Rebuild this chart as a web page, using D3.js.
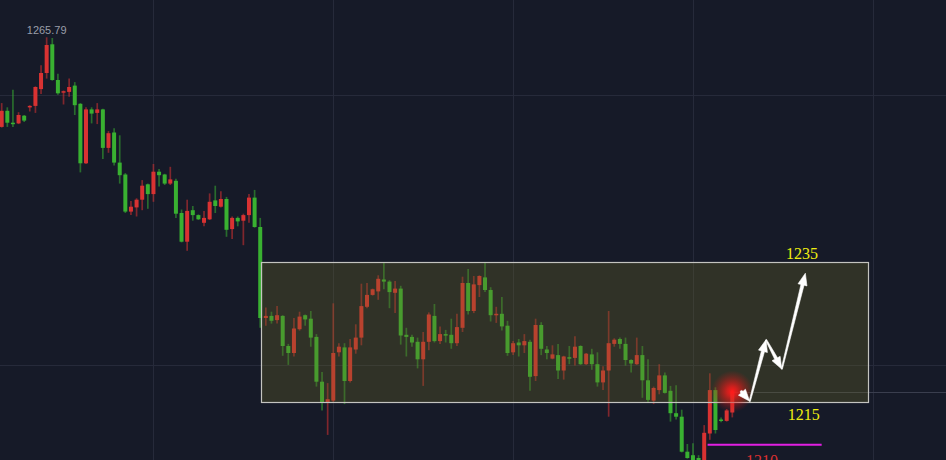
<!DOCTYPE html>
<html>
<head>
<meta charset="utf-8">
<script src="https://cdn.jsdelivr.net/npm/d3@7"></script>
<style>
  html, body { margin: 0; padding: 0; background: #161a28; overflow: hidden; }
  svg { display: block; }
</style>
</head>
<body>
<svg id="chart"></svg>
<script>
// Candle data, oldest first (up = red, down = green)
var opens = [1254.3, 1256.6, 1254.9, 1254.8, 1255.9, 1257.1, 1257.3, 1259.7, 1262.0, 1266.1,
  1261.0, 1259.2, 1259.3, 1260.2, 1257.6, 1249.1, 1256.8, 1256.3, 1256.8, 1251.3,
  1253.5, 1249.2, 1247.5, 1242.2, 1242.8, 1243.9, 1246.1, 1244.7, 1247.9, 1247.5,
  1246.2, 1246.6, 1242.0, 1237.9, 1242.4, 1241.7, 1240.6, 1241.1, 1243.8, 1242.9,
  1244.0, 1239.7, 1241.3, 1240.9, 1241.7, 1244.2, 1240.0, 1227.0, 1227.3, 1226.7,
  1227.3, 1223.0, 1222.0, 1225.4, 1227.4, 1226.9, 1224.3, 1217.9, 1215.0, 1215.2,
  1222.1, 1222.8, 1218.0, 1222.5, 1224.2, 1228.6, 1230.3, 1230.8, 1232.5, 1232.2,
  1230.6, 1231.2, 1224.6, 1224.3, 1223.6, 1221.1, 1223.6, 1227.3, 1223.7, 1224.7,
  1224.6, 1223.4, 1225.6, 1232.0, 1228.0, 1231.7, 1232.8, 1231.0, 1227.4, 1227.6,
  1225.9, 1222.1, 1223.5, 1223.1, 1223.6, 1218.7, 1226.0, 1222.5, 1221.2, 1221.7,
  1219.5, 1221.4, 1221.3, 1223.0, 1220.4, 1221.8, 1220.4, 1217.8, 1219.5, 1223.3,
  1224.0, 1223.3, 1221.0, 1220.4, 1221.7, 1218.1, 1215.2, 1216.7, 1218.8, 1216.6,
  1213.4, 1212.9, 1207.9, 1207.4, 1207.0, 1204.6, 1210.5, 1216.7, 1212.5, 1212.3,
  1213.5];
var highs = [1257.7, 1257.1, 1259.6, 1256.4, 1256.0, 1257.4, 1260.1, 1263.1, 1267.1, 1267.0,
  1261.9, 1259.5, 1261.2, 1260.7, 1257.7, 1257.1, 1257.1, 1257.7, 1256.9, 1253.7,
  1254.1, 1253.1, 1247.7, 1243.7, 1244.1, 1246.7, 1246.2, 1249.0, 1248.3, 1247.6,
  1248.6, 1246.9, 1242.5, 1243.9, 1243.0, 1241.8, 1242.3, 1244.8, 1245.9, 1245.1,
  1244.3, 1241.5, 1241.5, 1241.9, 1244.7, 1245.3, 1241.3, 1228.5, 1227.9, 1228.7,
  1227.4, 1223.3, 1227.0, 1227.9, 1227.5, 1228.0, 1224.7, 1219.3, 1217.7, 1229.1,
  1223.4, 1223.4, 1224.0, 1226.1, 1231.9, 1232.0, 1231.2, 1233.1, 1235.0, 1232.4,
  1232.3, 1231.6, 1225.6, 1224.6, 1224.2, 1225.0, 1227.8, 1229.0, 1225.8, 1225.3,
  1226.9, 1227.6, 1232.9, 1234.0, 1233.0, 1233.1, 1235.0, 1231.4, 1228.6, 1230.0,
  1226.6, 1223.7, 1224.0, 1224.7, 1223.9, 1226.9, 1226.4, 1223.0, 1223.1, 1223.3,
  1221.6, 1223.0, 1224.4, 1223.1, 1222.0, 1222.6, 1222.1, 1220.1, 1228.0, 1224.1,
  1224.2, 1224.2, 1221.1, 1224.2, 1223.0, 1221.1, 1217.2, 1220.4, 1219.2, 1217.3,
  1217.4, 1213.9, 1209.0, 1209.1, 1207.4, 1211.7, 1219.1, 1217.1, 1212.8, 1214.0,
  1216.7];
var lows = [1254.2, 1254.3, 1254.3, 1254.7, 1255.0, 1256.5, 1256.3, 1259.0, 1261.2, 1260.9,
  1258.9, 1257.5, 1258.6, 1256.0, 1247.8, 1249.0, 1254.8, 1254.7, 1249.7, 1250.6,
  1248.8, 1246.2, 1242.0, 1241.7, 1241.5, 1242.4, 1242.6, 1243.6, 1245.8, 1246.0,
  1246.0, 1241.3, 1237.8, 1236.6, 1240.9, 1241.0, 1240.1, 1241.0, 1242.0, 1242.8,
  1238.6, 1238.3, 1240.1, 1237.4, 1240.6, 1239.9, 1225.6, 1225.9, 1226.2, 1226.2,
  1221.6, 1220.3, 1221.5, 1225.2, 1225.9, 1222.9, 1217.2, 1213.8, 1210.3, 1215.0,
  1221.5, 1214.7, 1217.8, 1221.9, 1223.1, 1228.4, 1230.2, 1229.6, 1231.1, 1228.4,
  1227.7, 1223.2, 1221.5, 1222.9, 1219.8, 1217.3, 1222.4, 1223.5, 1223.3, 1223.5,
  1222.6, 1223.0, 1225.0, 1227.5, 1227.7, 1230.0, 1230.7, 1226.5, 1226.3, 1225.2,
  1221.6, 1221.7, 1221.5, 1222.0, 1216.6, 1218.0, 1221.7, 1221.1, 1221.1, 1218.3,
  1218.2, 1220.4, 1220.2, 1220.3, 1220.3, 1219.6, 1217.2, 1216.7, 1212.9, 1222.9,
  1222.6, 1220.2, 1219.2, 1220.3, 1215.6, 1215.0, 1214.7, 1216.1, 1216.2, 1212.2,
  1212.5, 1207.8, 1206.9, 1205.3, 1204.6, 1203.9, 1209.6, 1210.5, 1212.1, 1212.2,
  1212.8];
var closes = [1256.6, 1254.9, 1254.7, 1256.0, 1255.2, 1257.3, 1260.0, 1262.0, 1266.0, 1261.0,
  1259.1, 1259.4, 1260.0, 1257.4, 1249.1, 1256.8, 1256.2, 1256.8, 1251.3, 1253.4,
  1249.2, 1247.4, 1242.2, 1242.9, 1243.9, 1245.9, 1244.7, 1247.9, 1247.4, 1246.2,
  1246.8, 1241.9, 1237.9, 1242.3, 1241.7, 1241.1, 1241.3, 1243.6, 1243.0, 1244.0,
  1239.6, 1241.3, 1240.8, 1241.7, 1244.2, 1240.0, 1227.0, 1227.3, 1226.6, 1227.4,
  1223.0, 1222.0, 1225.5, 1227.2, 1226.8, 1224.2, 1217.9, 1215.0, 1215.4, 1222.0,
  1222.9, 1218.0, 1222.8, 1224.2, 1228.7, 1230.3, 1231.1, 1232.6, 1232.2, 1230.7,
  1231.2, 1224.5, 1224.3, 1223.5, 1221.1, 1223.6, 1227.5, 1223.7, 1224.7, 1224.5,
  1223.4, 1225.7, 1232.0, 1228.0, 1231.8, 1233.0, 1231.0, 1227.4, 1227.6, 1225.8,
  1222.0, 1223.4, 1223.1, 1223.7, 1218.6, 1226.0, 1222.6, 1222.0, 1221.8, 1219.5,
  1221.5, 1221.3, 1222.9, 1220.4, 1221.9, 1220.4, 1217.8, 1219.5, 1223.4, 1223.9,
  1223.3, 1221.0, 1220.5, 1221.7, 1218.1, 1215.3, 1217.0, 1218.8, 1216.3, 1213.4,
  1212.9, 1207.9, 1207.0, 1205.9, 1205.3, 1210.6, 1216.7, 1211.0, 1212.3, 1213.8,
  1216.5];

// Annotation values
var zoneTop = 1235, zoneBottom = 1215;
var zoneStart = 46.1, zoneEnd = 154.15;
var stopLevel = 1208.9, stopStart = 125.6, stopEnd = 145.9;
var zoneLabels = ["1235", "1215", "1210"];
var highLabel = "1265.79";
// projected path: [bar index, price]
var pathIdx = [131.5, 133.1, 136.0, 138.8, 143.0];
var pathPrice = [1216.6, 1215.1, 1223.9, 1219.7, 1233.4];
// grid positions
var gridIdx = [27, 59, 91, 123, 155];
var gridPrice = [1258.85, 1220.3];

var width = 946, height = 460;
var upColor = "#d93232", downColor = "#39b131";

var candles = d3.range(opens.length).map(function (i) {
    return { i: i, o: opens[i], h: highs[i], l: lows[i], c: closes[i] };
});

// Define scales
var xScale = d3.scaleLinear().domain([0, 130]).range([1.7, 732.3]);
var yScale = d3.scaleLinear().domain([zoneBottom, zoneTop]).range([402, 262]);

var svg = d3.select("#chart")
    .attr("width", width)
    .attr("height", height);

svg.append("rect")
    .attr("width", width)
    .attr("height", height)
    .attr("fill", "#161a28");

var defs = svg.append("defs");
var glow = defs.append("radialGradient").attr("id", "glow");
glow.append("stop").attr("offset", "0%").attr("stop-color", "#ff1a1a").attr("stop-opacity", 1);
glow.append("stop").attr("offset", "25%").attr("stop-color", "#ff1a1a").attr("stop-opacity", 0.75);
glow.append("stop").attr("offset", "100%").attr("stop-color", "#c81414").attr("stop-opacity", 0);

// Grid lines
svg.append("g").selectAll("line")
    .data(gridIdx)
    .enter().append("line")
    .attr("x1", function (d) { return Math.round(xScale(d)) + 0.5; })
    .attr("x2", function (d) { return Math.round(xScale(d)) + 0.5; })
    .attr("y1", 0).attr("y2", height)
    .attr("stroke", "#262a3a").attr("stroke-width", 1);

svg.append("g").selectAll("line")
    .data(gridPrice)
    .enter().append("line")
    .attr("x1", 0).attr("x2", width)
    .attr("y1", function (d) { return Math.round(yScale(d)) + 0.5; })
    .attr("y2", function (d) { return Math.round(yScale(d)) + 0.5; })
    .attr("stroke", "#262a3a").attr("stroke-width", 1);

// Last price line
var last = candles[candles.length - 1];
svg.append("line")
    .attr("x1", xScale(last.i)).attr("x2", width)
    .attr("y1", Math.round(yScale(last.c)) + 0.5)
    .attr("y2", Math.round(yScale(last.c)) + 0.5)
    .attr("stroke", "#3a3e4e").attr("stroke-width", 1);

// Candles
var g = svg.append("g").attr("class", "candles");

g.selectAll(".wick")
    .data(candles)
    .enter().append("line")
    .attr("class", "wick")
    .attr("x1", function (d) { return xScale(d.i); })
    .attr("x2", function (d) { return xScale(d.i); })
    .attr("y1", function (d) { return yScale(d.h); })
    .attr("y2", function (d) { return yScale(d.l); })
    .attr("stroke", function (d) { return d.c >= d.o ? upColor : downColor; })
    .attr("stroke-opacity", 0.55)
    .attr("stroke-width", 1.7);

g.selectAll(".body")
    .data(candles)
    .enter().append("rect")
    .attr("class", "body")
    .attr("x", function (d) { return xScale(d.i) - 2; })
    .attr("width", 4)
    .attr("y", function (d) { return yScale(Math.max(d.o, d.c)); })
    .attr("height", function (d) {
        return Math.max(1.5, Math.abs(yScale(d.o) - yScale(d.c)));
    })
    .attr("fill", function (d) { return d.c >= d.o ? upColor : downColor; });

// Highest price label
var hi = d3.maxIndex(highs);
svg.append("text")
    .attr("x", xScale(hi))
    .attr("y", yScale(highs[hi]) - 3)
    .attr("text-anchor", "middle")
    .style("font-family", "'Liberation Sans', Arial, sans-serif")
    .style("font-size", "11px")
    .attr("fill", "#9a9ea8")
    .text(highLabel);

// Target zone
svg.append("rect")
    .attr("x", Math.round(xScale(zoneStart)) + 0.5)
    .attr("y", Math.round(yScale(zoneTop)) + 0.5)
    .attr("width", Math.round(xScale(zoneEnd) - xScale(zoneStart)))
    .attr("height", Math.round(yScale(zoneBottom) - yScale(zoneTop)))
    .attr("fill", "rgb(110,106,40)")
    .attr("fill-opacity", 0.3)
    .attr("stroke", "#c4c4c0")
    .attr("stroke-width", 1.2);

// Stop line
svg.append("line")
    .attr("x1", xScale(stopStart)).attr("x2", xScale(stopEnd))
    .attr("y1", yScale(stopLevel)).attr("y2", yScale(stopLevel))
    .attr("stroke", "#e21fe2").attr("stroke-width", 2);

// Glow on last candle
svg.append("circle")
    .attr("cx", xScale(last.i))
    .attr("cy", yScale(last.c))
    .attr("r", 21)
    .attr("fill", "url(#glow)");

// Projected path arrows
function arrowPoints(x1, y1, x2, y2) {
    var dx = x2 - x1, dy = y2 - y1, len = Math.sqrt(dx * dx + dy * dy);
    var ux = dx / len, uy = dy / len, nx = -uy, ny = ux;
    var head = Math.min(12, len), bx = x2 - ux * head, by = y2 - uy * head;
    var t = 0.6, b = 1.6, w = 4.6;
    return [
        [x1 + nx * t, y1 + ny * t],
        [bx + nx * b, by + ny * b],
        [bx + nx * w, by + ny * w],
        [x2, y2],
        [bx - nx * w, by - ny * w],
        [bx - nx * b, by - ny * b],
        [x1 - nx * t, y1 - ny * t]
    ];
}

var segs = d3.range(pathIdx.length - 1).map(function (k) {
    return arrowPoints(xScale(pathIdx[k]), yScale(pathPrice[k]),
        xScale(pathIdx[k + 1]), yScale(pathPrice[k + 1]));
});

svg.append("g").selectAll("polygon")
    .data(segs)
    .enter().append("polygon")
    .attr("points", function (d) { return d.map(function (p) { return p.join(","); }).join(" "); })
    .attr("fill", "#ffffff")
    .attr("stroke", "#ffffff")
    .attr("stroke-width", 0.6)
    .attr("stroke-linejoin", "round");

// Level labels
var labelFont = "'Liberation Serif', 'DejaVu Serif', serif";
svg.append("text")
    .attr("x", xScale(142.4)).attr("y", yScale(zoneTop) - 3)
    .attr("text-anchor", "middle")
    .style("font-family", labelFont).style("font-size", "16px")
    .attr("fill", "#eeee10")
    .text(zoneLabels[0]);

svg.append("text")
    .attr("x", xScale(142.7)).attr("y", yScale(zoneBottom) + 18)
    .attr("text-anchor", "middle")
    .style("font-family", labelFont).style("font-size", "16px")
    .attr("fill", "#eeee10")
    .text(zoneLabels[1]);

svg.append("text")
    .attr("x", xScale(135.3)).attr("y", yScale(stopLevel) + 21)
    .attr("text-anchor", "middle")
    .style("font-family", labelFont).style("font-size", "16px")
    .attr("fill", "#dc3030")
    .text(zoneLabels[2]);
</script>
</body>
</html>
